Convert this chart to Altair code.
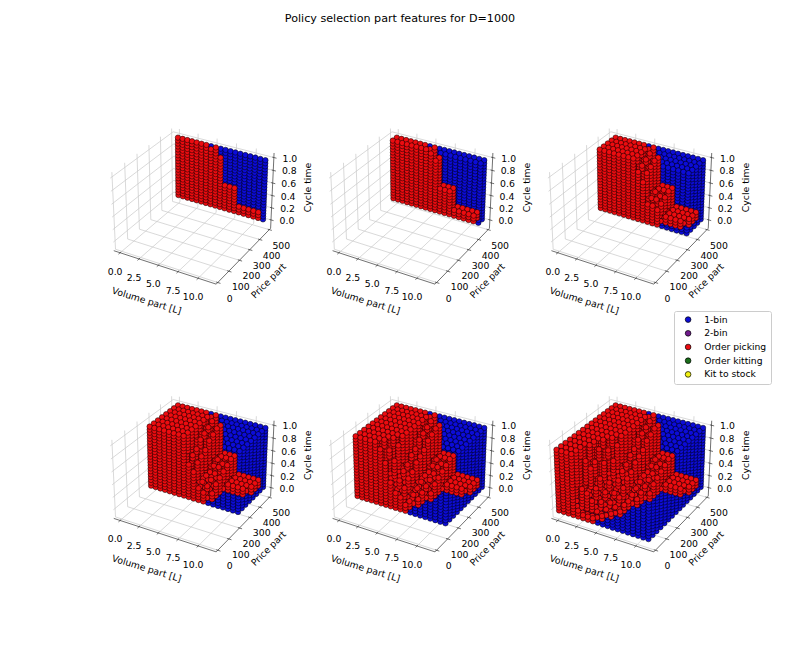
import numpy as np
import pandas as pd
import altair as alt

TITLE = "Policy selection part features for D=1000"
POLICIES = ["1-bin", "2-bin", "Order picking", "Order kitting", "Kit to stock"]
POLICY_COLORS = ["#0c0cd8", "#701a8c", "#ec0c10", "#1a6e1a", "#f2f214"]

volumes = [0.0, 0.63, 1.26, 1.89, 2.52, 3.15, 3.78, 4.41, 5.04, 5.67, 6.3, 6.93, 7.56, 8.19, 8.82, 9.45, 10.08, 10.71, 11.34]
prices = [500, 464, 429, 393, 357, 321, 286, 250, 214, 179, 143, 107, 71, 36, 0]
cycles = [0.0, 0.048, 0.095, 0.143, 0.19, 0.238, 0.285, 0.333, 0.38, 0.428, 0.475, 0.523, 0.57, 0.618, 0.665, 0.713, 0.76, 0.808, 0.855, 0.903, 0.95]
rows_per_panel = [1, 2, 5, 8, 11, 15]

# top z-level index of the Order picking stack per price row (back to front) and volume column; -1 = none
red_top = [
    [20, 20, 20, 20, 20, 20, 20, 19, 20, 17, 8, 8, 8, 2, 2, 2, 2, 2, -1],
    [20, 20, 20, 20, 20, 20, 20, 20, 19, 17, 8, 8, 8, 2, 2, 2, 2, 2, -1],
    [20, 20, 20, 20, 20, 20, 20, 20, 18, 16, 8, 7, 7, 2, 2, 2, 2, 2, -1],
    [20, 20, 20, 20, 20, 20, 20, 20, 17, 15, 7, 7, 6, 2, 2, 2, 2, -1, -1],
    [20, 20, 20, 20, 20, 20, 20, 20, 16, 13, 6, 6, 5, -1, -1, -1, -1, -1, -1],
    [20, 20, 20, 20, 20, 20, 20, 20, 14, 12, 6, 5, 4, -1, -1, -1, -1, -1, -1],
    [20, 20, 20, 20, 20, 20, 20, 20, 13, 11, 5, 4, 2, -1, -1, -1, -1, -1, -1],
    [20, 20, 20, 20, 20, 20, 20, 20, 11, 9, 4, 3, -1, -1, -1, -1, -1, -1, -1],
    [20, 20, 20, 20, 20, 20, 20, 18, 10, 8, 3, 2, -1, -1, -1, -1, -1, -1, -1],
    [20, 20, 20, 20, 20, 20, 17, 14, 8, 6, 2, -1, -1, -1, -1, -1, -1, -1, -1],
    [20, 20, 20, 20, 20, 18, 14, 8, 5, 4, 2, -1, -1, -1, -1, -1, -1, -1, -1],
    [20, 20, 20, 20, 20, 15, 10, 6, 3, 2, 1, -1, -1, -1, -1, -1, -1, -1, -1],
    [20, 20, 20, 20, 16, 14, 8, 4, 2, 1, -1, -1, -1, -1, -1, -1, -1, -1, -1],
    [20, 20, 20, 20, 8, 7, 5, 2, 1, -1, -1, -1, -1, -1, -1, -1, -1, -1, -1],
    [20, 20, 20, 20, 2, 1, 1, 1, -1, -1, -1, -1, -1, -1, -1, -1, -1, -1, -1],
]

x_ticks = [0.0, 2.5, 5.0, 7.5, 10.0]
y_ticks = [0, 100, 200, 300, 400, 500]
z_ticks = [0.0, 0.2, 0.4, 0.6, 0.8, 1.0]
XLIM = (-0.85, 12.2)
YLIM = (-14.0, 514.0)
ZLIM = (-0.14, 1.07)

# ---- matplotlib-style perspective camera
FIG_W, FIG_H = 800.0, 666.0
L, R_, T, B = 0.125, 0.9, 0.88, 0.11
PW = (R_ - L) * FIG_W / (3 + 2 * 0.2)
PH = (T - B) * FIG_H / (2 + 0.2)
SIDE = min(PW, PH)
ROW_SHIFT = [8, -4]


def panel_box(i):
    col, row = i % 3, i // 3
    left = L * FIG_W + col * PW * 1.2
    top = (1 - T) * FIG_H + row * PH * 1.2 + ROW_SHIFT[row]
    return left + (PW - SIDE) / 2, top + (PH - SIDE) / 2


_asp = np.array([4.0, 4.0, 3.0])
_asp = _asp * 1.8294640721620434 * 25 / 24 / np.linalg.norm(_asp)
_e, _a = np.deg2rad(30), np.deg2rad(-60)
_c = 0.5 * _asp
_dir = np.array([np.cos(_e) * np.cos(_a), np.cos(_e) * np.sin(_a), np.sin(_e)])
_eye = _c + 10 * _dir
_w = _dir
_u = np.cross([0, 0, 1.0], _w)
_u /= np.linalg.norm(_u)
_v = np.cross(_w, _u)


def project(x, y, z, panel):
    p = np.stack([
        (np.asarray(x, float) - XLIM[0]) / (XLIM[1] - XLIM[0]) * _asp[0],
        (np.asarray(y, float) - YLIM[0]) / (YLIM[1] - YLIM[0]) * _asp[1],
        (np.asarray(z, float) - ZLIM[0]) / (ZLIM[1] - ZLIM[0]) * _asp[2],
    ], axis=-1) - _eye
    zv = -(p @ _w)
    X = (p @ _u) / zv
    Y = (p @ _v) / zv
    left, top = panel_box(panel)
    return left + (X + 0.095) / 0.185 * SIDE, top + SIDE - (Y + 0.095) / 0.185 * SIDE, zv


# ---- marks
pts, panes, lines, texts = [], [], [], []
H = np.array(red_top)
nz = len(cycles)
for pi, nrows in enumerate(rows_per_panel):
    for r in range(nrows):
        for c in range(len(volumes)):
            top = H[r, c]
            for k in range(nz):
                red = k <= top
                if red:
                    visible = (
                        k == top or r == nrows - 1 or r == 0 or c == 0 or c == len(volumes) - 1 or k == 0
                        or (r + 1 < nrows and H[r + 1, c] < k) or (c + 1 < H.shape[1] and H[r, c + 1] < k)
                        or (r > 0 and H[r - 1, c] < k) or (c > 0 and H[r, c - 1] < k)
                    )
                else:
                    visible = (r in (0, nrows - 1) or c in (0, len(volumes) - 1) or k in (0, nz - 1))
                if not visible:
                    continue
                px, py, d = project(volumes[c], prices[r], cycles[k], pi)
                pts.append((px, py, d, "Order picking" if red else "1-bin", 1 if red else 0, pi))

    def quad(name, corners):
        cs = np.array([project(*q, pi)[:2] for q in corners])
        xs = np.sort(cs[:, 0])
        n = len(cs)
        for xv in xs:
            ys = []
            for a in range(n):
                p, q = cs[a], cs[(a + 1) % n]
                lo, hi = min(p[0], q[0]), max(p[0], q[0])
                if lo - 1e-9 <= xv <= hi + 1e-9 and hi > lo:
                    ys.append(p[1] + (xv - p[0]) / (q[0] - p[0]) * (q[1] - p[1]))
            panes.append(dict(key=f"{pi}-{name}", pane=name, x=xv, y=min(ys), y2=max(ys)))

    x0, x1 = XLIM
    y0, y1 = YLIM
    z0, z1 = ZLIM
    quad("floor", [(x0, y0, z0), (x1, y0, z0), (x1, y1, z0), (x0, y1, z0)])
    quad("left", [(x0, y0, z0), (x0, y1, z0), (x0, y1, z1), (x0, y0, z1)])
    quad("back", [(x0, y1, z0), (x1, y1, z0), (x1, y1, z1), (x0, y1, z1)])

    def seg(kind, a, b):
        pa, pb = project(*a, pi)[:2], project(*b, pi)[:2]
        lines.append(dict(kind=kind, x=pa[0], y=pa[1], x2=pb[0], y2=pb[1]))

    dx, dy, dz = x1 - x0, y1 - y0, z1 - z0
    for t in x_ticks:
        seg("grid", (t, y0, z0), (t, y1, z0))
        seg("grid", (t, y1, z0), (t, y1, z1))
        seg("tick", (t, y0 + 0.015 * dy, z0), (t, y0 - 0.025 * dy, z0))
        a = project(t, y0, z0, pi)
        texts.append(dict(kind="tick", text=f"{t:.1f}", x=a[0] - 5, y=a[1] + 19))
    for t in y_ticks:
        seg("grid", (x0, t, z0), (x1, t, z0))
        seg("grid", (x0, t, z0), (x0, t, z1))
        seg("tick", (x1 - 0.015 * dx, t, z0), (x1 + 0.025 * dx, t, z0))
        a = project(x1, t, z0, pi)
        texts.append(dict(kind="tick", text=f"{t}", x=a[0] + 12, y=a[1] + 16))
    for t in z_ticks:
        seg("grid", (x0, y1, t), (x1, y1, t))
        seg("grid", (x0, y0, t), (x0, y1, t))
        seg("tick", (x1 - 0.015 * dx, y1, t), (x1 + 0.025 * dx, y1, t))
        a = project(x1, y1, t, pi)
        texts.append(dict(kind="tick", text=f"{t:.1f}", x=a[0] + 16, y=a[1] + 1))
    seg("axis", (x0, y0, z0), (x1, y0, z0))
    seg("axis", (x1, y0, z0), (x1, y1, z0))
    seg("axis", (x1, y1, z0), (x1, y1, z1))
    m = project((x0 + x1) / 2, y0, z0, pi)
    texts.append(dict(kind="xlab", text="Volume part [L]", x=m[0] - 17, y=m[1] + 34))
    m = project(x1, (y0 + y1) / 2, z0, pi)
    texts.append(dict(kind="ylab", text="Price part", x=m[0] + 24, y=m[1] + 26))
    m = project(x1, y1, (z0 + z1) / 2, pi)
    texts.append(dict(kind="zlab", text="Cycle time", x=m[0] + 36, y=m[1] - 4))

df = pd.DataFrame(pts, columns=["x", "y", "d", "policy", "layer", "panel"])
df = df.sort_values(["layer", "d"], ascending=[True, False]).reset_index(drop=True)
df["seq"] = df.index
df = df.round(2)
df_p = pd.DataFrame(panes).round(2)
df_l = pd.DataFrame(lines).round(2)
df_t = pd.DataFrame(texts).round(2)

XS = alt.Scale(domain=[8, 792], nice=False, zero=False)
YS = alt.Scale(domain=[8, 658], nice=False, zero=False, reverse=True)
X = alt.X("x:Q", scale=XS, axis=None)
Y = alt.Y("y:Q", scale=YS, axis=None)


def pane_layer(name, color):
    return alt.Chart(df_p[df_p.pane == name]).mark_area(opacity=1, color=color).encode(
        x=X, y=Y, y2="y2:Q", detail="key:N", order=alt.Order("x:Q"))


def rules(kind, color, width):
    return alt.Chart(df_l[df_l.kind == kind]).mark_rule(color=color, strokeWidth=width).encode(x=X, y=Y, x2="x2:Q", y2="y2:Q")


def text_layer(kind, **kw):
    return alt.Chart(df_t[df_t.kind == kind]).mark_text(font="DejaVu Sans", color="#000000", **kw).encode(x=X, y=Y, text="text:N")


points = alt.Chart(df).mark_point(filled=True, stroke="#000000", strokeWidth=0.5, size=30, opacity=1).encode(
    x=X, y=Y, order=alt.Order("seq:Q"),
    fill=alt.Fill("policy:N", scale=alt.Scale(domain=POLICIES, range=POLICY_COLORS), legend=alt.Legend(
        title=None, orient="none", legendX=666, legendY=303, padding=4, fillColor="#ffffff", strokeColor="#cccccc",
        cornerRadius=2, symbolStrokeColor="#000000", symbolStrokeWidth=0.7, symbolSize=32, symbolOpacity=1,
        labelFont="DejaVu Sans", labelFontSize=9.2, labelColor="#000000", rowPadding=3.7, symbolType="circle",
        symbolOffset=5.5, labelOffset=11.5)),
)

title_layer = alt.Chart(pd.DataFrame([dict(x=400, y=18.5, text=TITLE)])).mark_text(
    font="DejaVu Sans", fontSize=11.15, color="#000000").encode(x=X, y=Y, text="text:N")

chart = alt.layer(
    pane_layer("floor", "#f5f5f5"),
    pane_layer("left", "#fafafa"),
    pane_layer("back", "#f2f2f2"),
    rules("grid", "#c8c8c8", 0.7),
    rules("axis", "#333333", 0.7),
    rules("tick", "#333333", 0.7),
    points,
    text_layer("tick", fontSize=9.3),
    text_layer("xlab", fontSize=9.3, angle=17),
    text_layer("ylab", fontSize=9.3, angle=315),
    text_layer("zlab", fontSize=9.3, angle=270),
    title_layer,
).properties(width=784, height=650, padding=0, autosize=alt.AutoSizeParams(type="none")).configure_view(stroke=None)

chart.save("out.html", embed_options={"renderer": "svg", "actions": False})
